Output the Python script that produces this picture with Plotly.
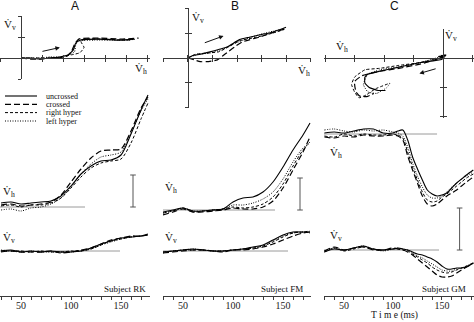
import plotly.graph_objects as go

# ---------------------------------------------------------------------------
# Eye-velocity traces for three subjects (columns A, B, C)
# four viewing conditions per panel
# ---------------------------------------------------------------------------
CONDITIONS = ["uncrossed", "crossed", "right hyper", "left hyper"]
DASHES = {"uncrossed": "solid", "crossed": "6px,3px",
          "right hyper": "3px,2px", "left hyper": "1px,1.5px"}
WIDTHS = {"uncrossed": 1.1, "crossed": 1.2, "right hyper": 1.0, "left hyper": 1.0}

# time samples (ms)
T_A = [30, 40, 50, 60, 70, 80, 90, 100, 110, 120, 130, 140, 150, 160, 170, 177]
T_B = [30, 40, 50, 60, 70, 80, 90, 100, 110, 120, 130, 140, 150, 160, 170, 177]
T_C = [30, 40, 50, 60, 70, 80, 90, 100, 105, 110, 115, 120, 125, 130, 135,
       140, 145, 150, 155, 160, 165, 170, 175, 182]

# horizontal velocity (deg/s) vs time
A_VH = {
    "uncrossed":   [4, 5, 3, 4, 5, 6, 11, 21, 33, 41, 46, 47, 52, 73, 97, 112],
    "crossed":     [2, 3, 1, 2, 3, 5, 12, 25, 38, 49, 56, 57, 58, 76, 99, 110],
    "right hyper": [1, 2, 0, 2, 2, 4, 9, 19, 30, 39, 44, 46, 48, 64, 88, 104],
    "left hyper":  [-3, -2, -4, -1, 0, 3, 9, 20, 33, 43, 50, 52, 55, 74, 96, 108],
}
B_VH = {
    "uncrossed":   [-2, 0, 2, -1, -1, 0, 1, 8, 12, 13, 18, 28, 43, 60, 75, 87],
    "crossed":     [-5, -2, 1, -2, -2, -1, 0, 2, 1, 1, 3, 9, 22, 40, 58, 73],
    "right hyper": [-3, -1, 2, -2, -1, 0, 1, 3, 2, 3, 6, 13, 26, 44, 60, 68],
    "left hyper":  [-3, -1, 2, -1, -1, 0, 1, 5, 5, 7, 11, 18, 31, 48, 62, 67],
}
C_VH = {
    "uncrossed":   [1, 2, 1, 3, 5, 5, 1, 1, 3, 4, -6, -23, -35, -46, -56, -60,
                    -62, -61, -59, -54, -49, -45, -41, -36],
    "crossed":     [-3, -4, -2, -3, -1, -2, -2, -1, -2, -6, -22, -36, -49, -62, -70,
                    -72, -70, -66, -62, -59, -56, -52, -48, -43],
    "right hyper": [-2, -3, 0, -2, 0, -1, -1, 0, -1, -4, -18, -33, -46, -58, -66,
                    -68, -67, -63, -60, -56, -52, -48, -44, -40],
    "left hyper":  [4, 5, 3, 2, 4, 3, 4, 2, 1, -2, -13, -29, -42, -53, -61, -64,
                    -64, -62, -58, -53, -49, -45, -42, -38],
}

# vertical velocity (deg/s) vs time
A_VV = {
    "uncrossed":   [0, 1, -1, 0, -1, 0, -1, -1, 0, 3, 7, 10, 13, 14, 15, 16],
    "crossed":     [-1, 0, -1, -1, -1, 0, -2, -1, 1, 3, 7, 11, 13, 15, 15, 17],
    "right hyper": [0, 0, 0, -1, 0, -1, -1, 0, 0, 2, 6, 10, 12, 14, 15, 16],
    "left hyper":  [1, 0, -1, 0, -1, -1, -1, -1, 0, 2, 6, 9, 12, 14, 15, 16],
}
B_VV = {
    "uncrossed":   [-1, 0, 1, 2, 1, 0, 0, 1, 2, 4, 6, 11, 16, 19, 19, 19],
    "crossed":     [-2, -1, 0, 1, 1, 0, -1, 1, 1, 2, 4, 7, 11, 15, 18, 19],
    "right hyper": [-1, 0, 1, 1, 1, 0, 0, 1, 2, 3, 5, 9, 14, 18, 19, 20],
    "left hyper":  [-2, 0, 1, 2, 1, 0, 0, 1, 2, 3, 5, 10, 15, 18, 19, 18],
}
C_VV = {
    "uncrossed":   [-2, 1, 0, 2, 4, 1, 0, 1, 2, 1, 0, -2, -4, -5, -7, -9, -12, -16,
                    -19, -19, -18, -18, -17, -13],
    "crossed":     [-1, 3, 0, 2, 3, 0, 0, 2, 1, 0, -2, -5, -9, -13, -17, -21, -25,
                    -27, -27, -26, -23, -20, -17, -13],
    "right hyper": [-2, 2, -1, 1, 3, 1, 0, 1, 1, 0, -1, -4, -7, -10, -13, -17, -20,
                    -22, -23, -22, -20, -18, -16, -13],
    "left hyper":  [-1, 2, 0, 2, 4, 1, -1, 1, 2, 1, 0, -3, -6, -8, -11, -14, -17,
                    -20, -21, -21, -19, -18, -16, -13],
}

# phase-plane trajectories: vertical vs horizontal velocity (deg/s)
A_PH_X = {
    "uncrossed":   [0, 9, 18, 28, 37, 45, 50, 52, 56, 75, 94, 107],
    "crossed":     [0, 9, 18, 27, 36, 44, 48, 51, 55, 75, 95, 112],
    "right hyper": [0, 10, 19, 29, 38, 48, 56, 60, 57, 62, 80, 100, 110],
    "left hyper":  [0, 9, 18, 28, 37, 46, 51, 52, 54, 70, 92, 104],
}
A_PH_Y = {
    "uncrossed":   [0, 0, -1, 0, 1, 3, 8, 14, 17, 18, 17, 18],
    "crossed":     [0, -1, -1, 0, 0, 2, 6, 13, 18, 19, 18, 19],
    "right hyper": [0, 0, 0, 0, 1, 3, 5, 10, 16, 18, 18, 17, 18],
    "left hyper":  [0, 0, 0, 1, 1, 3, 6, 12, 16, 17, 17, 17],
}
B_PH_X = {
    "uncrossed":   [0, 4, 10, 18, 25, 32, 42, 50, 59, 69, 80],
    "crossed":     [0, 5, 10, 15, 24, 30, 38, 44, 58, 70, 80],
    "right hyper": [0, 6, 15, 25, 33, 42, 56, 68, 78],
    "left hyper":  [0, 8, 18, 28, 36, 46, 58, 70, 79],
}
B_PH_Y = {
    "uncrossed":   [0, 2, 3, 5, 7, 9, 15, 17, 19, 21, 25],
    "crossed":     [0, -1.5, -3, -3, -1.5, 3, 9, 13, 17, 21, 24],
    "right hyper": [0, 3, 4, 5, 9, 14, 17, 20, 23],
    "left hyper":  [0, 3, 4, 7, 11, 15, 19, 22, 24],
}
C_PH_X = {
    "uncrossed":   [0, -2, 2, -1, -15, -29, -43, -51, -53, -53, -50, -44, -39],
    "crossed":     [0, -3, 1, -2, -15, -30, -43, -55, -60, -59, -56, -51, -47],
    "right hyper": [0, -2, 1, -15, -30, -43, -53, -60, -62, -60, -57, -52, -46, -36],
    "left hyper":  [0, -1, 2, -15, -30, -43, -51, -54, -51, -45, -38, -36],
}
C_PH_Y = {
    "uncrossed":   [0, 1, 2, -1, -3, -6, -9, -11, -13, -17, -20, -22, -22],
    "crossed":     [0, 1, 2, 0, -4, -7, -9, -12, -16, -23, -26, -26, -24],
    "right hyper": [0, 2, 1, -3, -5, -7, -8, -13, -18, -23, -27, -25, -21, -17],
    "left hyper":  [0, 1, 2, -3, -6, -8, -11, -18, -23, -24, -20, -17],
}

# direction arrows on the phase planes: (tail x, tail y, head x, head y)
A_ARROW = (19, 6, 37, 10)
B_ARROW = (12.5, 12, 29, 18)
C_ARROW = (-4, -7, -16, -10.5)

# calibration bars (deg/s) and the time at which they stand
SCALE_BARS = {"A": (162, 32), "B": (167, 32), "C": (168, 42)}
# extent of the zero-velocity reference lines (ms)
ZERO_END = {"A": (114, 149), "B": (142, 155), "C": (145, 147)}
SUBJECTS = {"A": "Subject RK", "B": "Subject FM", "C": "Subject GM"}
TIME_TICKS = [50, 100, 150]

# ---------------------------------------------------------------------------
W, H = 474, 322
AX = "#3a3a3a"
GRAY = "#9a9a9a"
SERIF = "Liberation Serif"


def dx(a, b):
    return [a / W, b / W]


def dy(top, bottom):
    return [1 - bottom / H, 1 - top / H]


fig = go.Figure()


def add_bundle(xs, ys, xa, ya, smoothing=0.8):
    for c in CONDITIONS:
        fig.add_trace(go.Scatter(
            x=xs[c] if isinstance(xs, dict) else xs, y=ys[c],
            xaxis=xa, yaxis=ya, mode="lines", name=c,
            line=dict(color="black", width=WIDTHS[c], dash=DASHES[c],
                      shape="spline", smoothing=smoothing),
            showlegend=False, hoverinfo="skip"))


def add_zero(t0, t1, xa, ya):
    fig.add_trace(go.Scatter(x=[t0, t1], y=[0, 0], xaxis=xa, yaxis=ya, mode="lines",
                             line=dict(color=GRAY, width=1), showlegend=False,
                             hoverinfo="skip"))


def add_bar(t, length, xa, ya):
    fig.add_trace(go.Scatter(x=[t, t], y=[0, length], xaxis=xa, yaxis=ya,
                             mode="lines+markers",
                             line=dict(color="#555", width=1),
                             marker=dict(symbol="line-ew", size=4,
                                         line=dict(color="#555", width=1)),
                             showlegend=False, hoverinfo="skip"))


# time-course panels ---------------------------------------------------------
cols = [
    ("A", T_A, A_VH, A_VV, "x4", "y4", "y5"),
    ("B", T_B, B_VH, B_VV, "x5", "y6", "y7"),
    ("C", T_C, C_VH, C_VV, "x6", "y8", "y9"),
]
for key, t, vh, vv, xa, yh, yv in cols:
    add_zero(t[0] - 1, ZERO_END[key][0], xa, yh)
    add_zero(t[0] - 1, ZERO_END[key][1], xa, yv)
    add_bundle(t, vh, xa, yh)
    add_bundle(t, vv, xa, yv)
    bt, bl = SCALE_BARS[key]
    add_bar(bt, bl, xa, yv if key == "C" else yh)

# phase planes ---------------------------------------------------------------
add_bundle(A_PH_X, A_PH_Y, "x", "y", smoothing=0.5)
add_bundle(B_PH_X, B_PH_Y, "x2", "y2", smoothing=0.5)
add_bundle(C_PH_X, C_PH_Y, "x3", "y3", smoothing=0.4)
for xa, ya in [("x7", "y10"), ("x8", "y11"), ("x9", "y12")]:
    fig.add_trace(go.Scatter(x=[None], y=[None], xaxis=xa, yaxis=ya,
                             showlegend=False, hoverinfo="skip"))

layout = dict(width=W, height=H, margin=dict(l=0, r=0, t=0, b=0),
              paper_bgcolor="white", plot_bgcolor="rgba(0,0,0,0)",
              showlegend=False)

base_ax = dict(showgrid=False, zeroline=False, fixedrange=True)


def phase_pair(xdom, xr, xt, ypos_px, ydom, yr, yt, xpos_px):
    xa = dict(base_ax, domain=xdom, range=xr, anchor="free", position=1 - ypos_px / H,
              showline=True, linecolor=AX, linewidth=1, tickvals=xt,
              ticks="outside", ticklen=3, tickcolor=AX, showticklabels=False)
    ya = dict(base_ax, domain=ydom, range=yr, anchor="free", position=xpos_px / W,
              showline=True, linecolor=AX, linewidth=1, tickvals=yt,
              ticks="outside", ticklen=3, tickcolor=AX, showticklabels=False)
    return xa, ya


def overlay(ax, name):
    o = dict(ax)
    o.pop("domain")
    o.update(overlaying=name, ticks="inside", showline=False)
    return o


pa = phase_pair(dx(0, 150), [-20, 122.86], [-20, 0, 20, 40, 60, 80, 100, 120], 58,
                dy(16, 79), [-20, 40], [-20, 0, 20, 40], 21)
pb = phase_pair(dx(163, 311), [-20.4, 100.4], [-20, 0, 20, 40, 60, 80, 100], 58,
                dy(8, 108), [-40.8, 40.8], [-40, -20, 0, 20, 40], 188)
pc = phase_pair(dx(324, 474), [-80.7, 21.0], [-80, -60, -40, -20, 0, 20], 58,
                dy(29, 118), [-40.7, 19.7], [-40, -20, 0, 20], 443)

layout["xaxis"], layout["yaxis"] = pa
layout["xaxis2"], layout["yaxis2"] = pb
layout["xaxis3"], layout["yaxis3"] = pc
layout["xaxis7"], layout["yaxis10"] = overlay(pa[0], "x"), overlay(pa[1], "y")
layout["xaxis8"], layout["yaxis11"] = overlay(pb[0], "x2"), overlay(pb[1], "y2")
layout["xaxis9"], layout["yaxis12"] = overlay(pc[0], "x3"), overlay(pc[1], "y3")


def time_axis(dom, rng, anchor):
    return dict(base_ax, domain=dom, range=rng, anchor=anchor,
                showline=True, linecolor=AX, linewidth=1,
                tickvals=TIME_TICKS, ticks="outside", ticklen=3, tickcolor=AX,
                minor=dict(tickvals=list(range(30, 181, 10)), ticks="outside",
                           ticklen=3, tickcolor=AX),
                ticklabelstandoff=-3,
                tickfont=dict(family=SERIF, size=10, color="#222"))


def vel_axis(dom_px, base_px, anchor):
    top, bottom = dom_px
    return dict(base_ax, domain=dy(top, bottom),
                range=[-(bottom - base_px), base_px - top],
                anchor=anchor, visible=False)


layout["xaxis4"] = time_axis(dx(0, 150), [29, 179], "y5")
layout["xaxis5"] = time_axis(dx(163, 311), [30, 178], "y7")
layout["xaxis6"] = time_axis(dx(324, 474), [29.6, 182.7], "y9")
layout["yaxis4"] = vel_axis((88, 216), 207, "x4")
layout["yaxis5"] = vel_axis((218, 296), 251, "x4")
layout["yaxis6"] = vel_axis((88, 216), 210, "x5")
layout["yaxis7"] = vel_axis((218, 296), 251, "x5")
layout["yaxis8"] = vel_axis((118, 216), 134, "x6")
layout["yaxis9"] = vel_axis((200, 296), 250, "x6")

# text -----------------------------------------------------------------------
ann = []


def label(text, xp, yp, size=11, family=SERIF, **kw):
    ann.append(dict(text=text, x=xp / W, y=1 - yp / H, xref="paper", yref="paper",
                    showarrow=False, xanchor="center", yanchor="middle",
                    font=dict(family=family, size=size, color="#111"), **kw))


VV = "V\u0307<sub>v</sub>"
VHL = "V\u0307<sub>h</sub>"
for t, xp in [("A", 75), ("B", 235), ("C", 394)]:
    label(t, xp, 6, size=12, family="Liberation Sans")
label(VV, 10, 25); label(VHL, 141, 69)
label(VV, 198, 18); label(VHL, 304, 71)
label(VV, 451, 36); label(VHL, 342, 47)
label(VHL, 9, 192); label(VV, 9, 238)
label(VHL, 171, 188); label(VV, 171, 238)
label(VHL, 336, 153); label(VV, 336, 236)
for key, xp in [("A", 125), ("B", 282), ("C", 444)]:
    label(SUBJECTS[key], xp, 289, size=9)
ann.append(dict(text="T i m e (ms)", x=394 / W, y=0, xref="paper", yref="paper",
                showarrow=False, xanchor="center", yanchor="bottom", borderpad=0,
                font=dict(family=SERIF, size=9.5, color="#111")))

for (tx, ty, hx, hy), xa, ya in [(A_ARROW, "x", "y"), (B_ARROW, "x2", "y2"),
                                  (C_ARROW, "x3", "y3")]:
    ann.append(dict(x=hx, y=hy, ax=tx, ay=ty, xref=xa, yref=ya, axref=xa, ayref=ya,
                    showarrow=True, arrowhead=2, arrowsize=0.9, arrowwidth=1,
                    arrowcolor="#111", text=""))

# condition key
shapes = []
key_rows = [96, 104.3, 112.6, 121]
for c, yp in zip(CONDITIONS, key_rows):
    shapes.append(dict(type="line", xref="paper", yref="paper",
                       x0=5 / W, x1=37 / W, y0=1 - yp / H, y1=1 - yp / H,
                       line=dict(color="black", width=WIDTHS[c], dash=DASHES[c])))
    ann.append(dict(text=c, x=44 / W, y=1 - yp / H, xref="paper", yref="paper",
                    showarrow=False, xanchor="left", yanchor="middle",
                    font=dict(family=SERIF, size=8, color="#111")))

layout["annotations"] = ann
layout["shapes"] = shapes
fig.update_layout(**layout)
fig.write_html("out.html")
